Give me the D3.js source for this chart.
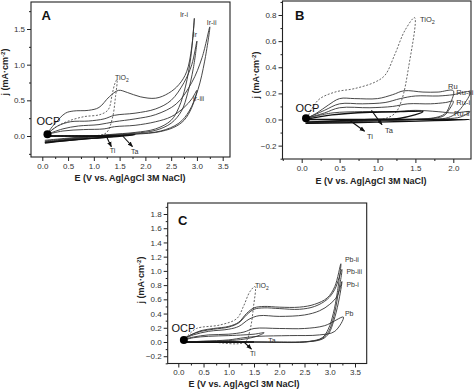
<!DOCTYPE html>
<html>
<head>
<meta charset="utf-8">
<script src="https://cdn.jsdelivr.net/npm/d3@7"></script>
<style>
  body { margin: 0; background: #fff; }
  svg { display: block; font-family: "Liberation Sans", Arial, sans-serif; }
</style>
</head>
<body>
<div id="chart"></div>
<script>
// ---- Panel A data: [E (V), j (mA/cm2)] loops, forward then reverse ----
var tio2A = [[0.08,0.02],[0.25,0.12],[0.47,0.2],[0.8,0.27],[1.12,0.3],[1.28,0.37],[1.36,0.6],[1.41,0.74],[1.45,0.79],
             [1.42,0.55],[1.36,0.25],[1.25,0.05],[1.1,0.01],[0.6,0.0],[0.08,0.0]];
var irI = [[0.08,0.02],[0.25,0.18],[0.45,0.32],[0.6,0.35],[0.9,0.36],[1.1,0.4],[1.3,0.55],[1.48,0.64],[1.65,0.61],[1.9,0.55],
           [2.2,0.53],[2.45,0.6],[2.65,0.72],[2.8,0.9],[2.9,1.25],[2.95,1.65],
           [2.88,1.1],[2.78,0.7],[2.65,0.4],[2.5,0.22],[2.2,0.1],[1.8,0.05],[1.3,0.02],[0.8,-0.02],[0.3,-0.06],[0.05,-0.08]];
var ir = [[0.08,0.02],[0.3,0.14],[0.55,0.2],[0.9,0.21],[1.2,0.24],[1.4,0.29],[1.8,0.32],[2.2,0.38],[2.5,0.5],[2.75,0.75],
          [2.9,1.0],[3.0,1.33],
          [2.93,0.95],[2.82,0.6],[2.7,0.35],[2.5,0.18],[2.2,0.08],[1.8,0.04],[1.2,0.01],[0.6,-0.03],[0.05,-0.07]];
var irII = [[0.08,0.02],[0.4,0.1],[0.7,0.14],[1.1,0.16],[1.4,0.2],[1.8,0.24],[2.2,0.3],[2.6,0.45],[2.9,0.75],[3.1,1.1],[3.25,1.53],
            [3.15,1.05],[3.02,0.65],[2.85,0.35],[2.65,0.18],[2.3,0.07],[1.8,0.03],[1.2,0.0],[0.6,-0.04],[0.05,-0.09]];
var irIII = [[0.08,0.02],[0.4,0.07],[0.8,0.09],[1.2,0.1],[1.4,0.13],[1.8,0.15],[2.2,0.2],[2.5,0.27],[2.75,0.4],[2.9,0.52],[3.0,0.64],
             [2.9,0.4],[2.75,0.22],[2.55,0.12],[2.2,0.05],[1.6,0.02],[1.0,0.0],[0.5,-0.03],[0.05,-0.06]];
var tiA = [[0.05,0.0],[0.6,0.0],[1.2,0.0],[1.45,0.0],[1.0,-0.03],[0.5,-0.06],[0.05,-0.09]];
var taA = [[0.05,0.0],[1.0,0.0],[1.5,0.005],[1.8,0.02],[1.5,-0.005],[0.8,-0.04],[0.05,-0.1]];

// ---- Panel B data ----
var tio2B = [[0.07,0.01],[0.22,0.15],[0.44,0.21],[0.7,0.237],[0.97,0.287],[1.1,0.34],[1.23,0.5],[1.36,0.68],[1.49,0.78],
             [1.41,0.4],[1.32,0.15],[1.23,0.047],[1.05,0.0],[0.5,0.0],[0.07,0.0]];
var ru = [[0.07,0.01],[0.2,0.05],[0.35,0.11],[0.5,0.16],[0.7,0.16],[1.0,0.16],[1.2,0.19],[1.35,0.22],[1.6,0.21],[1.8,0.21],[2.0,0.22],
          [1.96,0.12],[1.9,0.05],[1.8,0.02],[1.5,0.0],[1.0,-0.01],[0.5,-0.02],[0.07,-0.03]];
var ruIII = [[0.07,0.01],[0.3,0.07],[0.5,0.12],[0.8,0.12],[1.1,0.13],[1.3,0.16],[1.5,0.18],[1.8,0.18],[2.0,0.19],[2.22,0.21],
             [2.12,0.1],[2.02,0.04],[1.9,0.01],[1.5,0.0],[1.0,-0.01],[0.07,-0.025]];
var ruI = [[0.07,0.01],[0.3,0.05],[0.5,0.09],[0.9,0.09],[1.2,0.1],[1.4,0.12],[1.7,0.12],[1.9,0.13],[2.0,0.14],
           [1.95,0.08],[1.88,0.03],[1.75,0.01],[1.3,0.0],[0.07,-0.02]];
var ruII = [[0.07,0.01],[0.4,0.05],[0.8,0.06],[1.2,0.06],[1.5,0.07],[1.8,0.06],[2.0,0.05],[2.22,0.06],
            [2.1,0.02],[1.9,0.005],[1.0,-0.005],[0.07,-0.02]];
var tiB = [[0.05,0.0],[1.0,0.0],[2.22,0.0],[1.0,-0.02],[0.05,-0.03]];
var taB = [[0.05,0.0],[0.4,0.035],[0.9,0.055],[1.3,0.06],[1.6,0.06],[1.3,0.01],[0.9,0.0],[0.05,-0.02]];

// ---- Panel C data ----
var tio2C = [[0.07,0.03],[0.2,0.1],[0.36,0.19],[0.83,0.24],[1.16,0.33],[1.29,0.5],[1.42,0.71],[1.52,0.78],
             [1.49,0.5],[1.42,0.17],[1.32,0.0],[0.6,0.0],[0.07,0.0]];
var pbII = [[0.07,0.03],[0.25,0.1],[0.45,0.16],[0.7,0.19],[1.0,0.22],[1.2,0.28],[1.35,0.4],[1.5,0.48],[1.7,0.5],[2.0,0.49],
            [2.4,0.49],[2.7,0.53],[2.95,0.62],[3.1,0.78],[3.22,1.1],
            [3.15,0.7],[3.07,0.4],[2.97,0.18],[2.85,0.06],[2.6,0.01],[2.0,0.0],[1.0,0.0],[0.07,0.0]];
var pbIII = [[0.07,0.03],[0.25,0.1],[0.45,0.15],[0.7,0.18],[1.0,0.21],[1.2,0.27],[1.35,0.38],[1.5,0.46],[1.7,0.48],[2.0,0.47],
             [2.4,0.46],[2.7,0.5],[2.95,0.6],[3.1,0.74],[3.24,1.02],
             [3.16,0.65],[3.08,0.36],[2.98,0.15],[2.85,0.05],[2.5,0.0],[1.5,0.0],[0.07,0.0]];
var pbI = [[0.07,0.03],[0.3,0.1],[0.6,0.15],[1.0,0.18],[1.2,0.22],[1.4,0.32],[1.6,0.37],[2.0,0.36],[2.5,0.38],[2.8,0.44],
           [3.0,0.53],[3.15,0.65],[3.24,0.85],
           [3.17,0.55],[3.08,0.3],[2.98,0.12],[2.85,0.04],[2.5,0.0],[1.5,0.0],[0.07,0.0]];
var pb = [[0.07,0.03],[0.3,0.07],[0.6,0.1],[1.0,0.11],[1.3,0.14],[1.5,0.19],[2.0,0.19],[2.5,0.19],[2.9,0.23],[3.27,0.35],
          [3.1,0.15],[2.8,0.1],[2.2,0.09],[1.6,0.08],[1.3,0.06],[1.0,0.03],[0.5,0.01],[0.07,0.0]];
var taC = [[0.07,0.02],[0.3,0.06],[0.6,0.08],[1.0,0.09],[1.3,0.1],[1.5,0.11],[1.7,0.13],
           [1.55,0.08],[1.3,0.04],[1.0,0.02],[0.5,0.01],[0.07,0.0]];
var tiC = [[0.07,0.0],[0.8,0.0],[1.5,0.0],[0.8,-0.005],[0.07,-0.005]];

// OCP points
var ocpA = [0.1, 0.024], ocpB = [0.057, 0.01], ocpC = [0.11, 0.028];

// ---- Tick values ----
var xTicksA = [0, 0.5, 1.0, 1.5, 2.0, 2.5, 3.0, 3.5];
var yTicksA = [0, 0.5, 1.0, 1.5];
var xTicksB = [0, 0.5, 1.0, 1.5, 2.0];
var yTicksB = [-0.2, 0, 0.2, 0.4, 0.6, 0.8];
var xTicksC = [0, 0.5, 1.0, 1.5, 2.0, 2.5, 3.0, 3.5];
var yTicksC = [-0.2, 0, 0.2, 0.4, 0.6, 0.8, 1.0, 1.2, 1.4, 1.6, 1.8];

// ---- Curve labels [text, E, j] ----
var labelsA = [["Ir-i", 2.67, 1.67], ["Ir", 2.92, 1.39], ["Ir-ii", 3.19, 1.56], ["Ir-iii", 2.92, 0.495],
               ["TiO2", 1.41, 0.78], ["Ti", 1.31, -0.24], ["Ta", 1.72, -0.25]];
var labelsB = [["Ru", 1.93, 0.237], ["Ru-iii", 2.04, 0.19], ["Ru-i", 2.04, 0.11], ["Ru-ii", 2.01, 0.03],
               ["TiO2", 1.56, 0.75], ["Ti", 0.86, -0.15], ["Ta", 1.1, -0.1]];
var labelsC = [["Pb-ii", 3.3, 1.13], ["Pb-iii", 3.33, 0.95], ["Pb-i", 3.33, 0.77], ["Pb", 3.3, 0.36],
               ["TiO2", 1.52, 0.76], ["Ta", 1.78, -0.01], ["Ti", 1.42, -0.2]];
// arrows [E0, j0, E1, j1]
var arrowsA = [[1.24, 0.0, 1.34, -0.15], [1.56, 0.0, 1.75, -0.15]];
var arrowsB = [[0.64, -0.01, 0.83, -0.09], [0.92, 0.07, 1.06, -0.04]];
var arrowsC = [[1.3, 0.0, 1.45, -0.1]];

var svg = d3.select("#chart").append("svg")
    .attr("width", 474).attr("height", 390);

svg.append("defs").append("marker")
    .attr("id", "arr").attr("viewBox", "0 0 10 10")
    .attr("refX", 9).attr("refY", 5)
    .attr("markerWidth", 5).attr("markerHeight", 5)
    .attr("orient", "auto")
  .append("path").attr("d", "M0,1L10,5L0,9z").attr("fill", "#111");

// scale that hits two anchor points, then spans the frame
function anchored(v0, p0, v1, p1, lo, hi) {
    var s = d3.scaleLinear().domain([v0, v1]).range([p0, p1]);
    return d3.scaleLinear().domain([s.invert(lo), s.invert(hi)]).range([lo, hi]);
}

function minorOf(ticks, step, dom) {
    var out = [];
    var lo = Math.min(dom[0], dom[1]), hi = Math.max(dom[0], dom[1]);
    for (var v = ticks[0] - step * 4; v <= hi + 1e-9; v += step) {
        if (v >= lo - 1e-9 && !ticks.some(function (t) { return Math.abs(t - v) < 1e-6; })) out.push(+v.toFixed(3));
    }
    return out;
}

function addLabel(g, t, x, y, size) {
    var txt = g.append("text").attr("x", x).attr("y", y)
        .style("font-size", size + "px").attr("fill", "#333");
    if (t === "TiO2") {
        txt.append("tspan").text("TiO");
        txt.append("tspan").text("2").attr("dy", 2).style("font-size", (size - 2) + "px");
    } else {
        txt.text(t);
    }
}

function drawPanel(p) {
    var x = anchored(0, p.xa[0], p.xa[1], p.xa[2], p.frame[0], p.frame[1]);
    var y = anchored(0, p.ya[0], p.ya[1], p.ya[2], p.frame[3], p.frame[2]);
    var g = svg.append("g");

    // axes (outward ticks)
    g.append("g").attr("transform", "translate(0," + p.frame[3] + ")")
        .call(d3.axisBottom(x).tickValues(minorOf(p.xTicks, 0.25, x.domain())).tickSize(2).tickFormat(""));
    g.append("g").attr("transform", "translate(0," + p.frame[3] + ")")
        .call(d3.axisBottom(x).tickValues(p.xTicks).tickSize(4).tickPadding(2).tickFormat(d3.format(".1f")));
    g.append("g").attr("transform", "translate(" + p.frame[0] + ",0)")
        .call(d3.axisLeft(y).tickValues(minorOf(p.yTicks, p.yMinor, y.domain())).tickSize(2).tickFormat(""));
    g.append("g").attr("transform", "translate(" + p.frame[0] + ",0)")
        .call(d3.axisLeft(y).tickValues(p.yTicks).tickSize(4).tickPadding(2).tickFormat(d3.format(".1f")));
    g.selectAll(".domain").remove();
    g.selectAll(".tick line").attr("stroke", "#222");
    g.selectAll(".tick text").style("font-size", "8px").attr("fill", "#333")
        .style("font-family", "'Liberation Sans', Arial, sans-serif");

    g.append("rect")
        .attr("x", p.frame[0]).attr("y", p.frame[2])
        .attr("width", p.frame[1] - p.frame[0]).attr("height", p.frame[3] - p.frame[2])
        .attr("fill", "none").attr("stroke", "#222").attr("stroke-width", 1.1);

    var clipId = "clip" + p.name;
    svg.select("defs").append("clipPath").attr("id", clipId).append("rect")
        .attr("x", p.frame[0]).attr("y", p.frame[2])
        .attr("width", p.frame[1] - p.frame[0]).attr("height", p.frame[3] - p.frame[2]);
    var plot = g.append("g").attr("clip-path", "url(#" + clipId + ")");

    var line = d3.line().x(function (d) { return x(d[0]); }).y(function (d) { return y(d[1]); })
        .curve(d3.curveCatmullRom.alpha(0.5));

    p.series.forEach(function (s) {
        var path = plot.append("path").attr("d", line(s.data)).attr("fill", "none");
        if (s.kind === "dash") path.attr("stroke", "#555").attr("stroke-width", 0.9).attr("stroke-dasharray", "2,1.6");
        else if (s.kind === "thick") path.attr("stroke", "#111").attr("stroke-width", 1.4);
        else path.attr("stroke", "#333").attr("stroke-width", 0.9);
    });

    p.arrows.forEach(function (a) {
        g.append("line").attr("x1", x(a[0])).attr("y1", y(a[1])).attr("x2", x(a[2])).attr("y2", y(a[3]))
            .attr("stroke", "#111").attr("stroke-width", 1.1).attr("marker-end", "url(#arr)");
    });

    p.labels.forEach(function (l) { addLabel(g, l[0], x(l[1]), y(l[2]), p.labelSize); });

    // OCP marker
    g.append("circle").attr("cx", x(p.ocp[0])).attr("cy", y(p.ocp[1])).attr("r", 4).attr("fill", "#000");
    g.append("text").attr("x", p.ocpText[0]).attr("y", p.ocpText[1])
        .style("font-size", "11px").attr("fill", "#111").text("OCP");

    // panel letter
    g.append("text").attr("x", p.letter[0]).attr("y", p.letter[1])
        .style("font-size", "13px").style("font-weight", "bold").attr("fill", "#111").text(p.name);

    // axis titles
    g.append("text").attr("x", p.xTitle[0]).attr("y", p.xTitle[1]).attr("text-anchor", "middle")
        .style("font-size", "9px").style("font-weight", "bold").attr("fill", "#222")
        .text("E (V vs. Ag|AgCl 3M NaCl)");
    var yt = g.append("text")
        .attr("transform", "translate(" + p.yTitle[0] + "," + p.yTitle[1] + ") rotate(-90)")
        .attr("text-anchor", "middle")
        .style("font-size", "9px").style("font-weight", "bold").attr("fill", "#222");
    yt.append("tspan").text("j (mA\u00b7cm");
    yt.append("tspan").text("-2").attr("dy", -3).style("font-size", "6px");
    yt.append("tspan").text(")").attr("dy", 3);
}

drawPanel({
    name: "A", frame: [31, 230, 2, 157],
    xa: [42.3, 3.5, 222.7], ya: [136, 1.5, 29],
    xTicks: xTicksA, yTicks: yTicksA, yMinor: 0.25,
    series: [
        { data: tio2A, kind: "dash" }, { data: irI }, { data: ir }, { data: irII }, { data: irIII },
        { data: tiA, kind: "thick" }, { data: taA, kind: "thick" }
    ],
    labels: labelsA, arrows: arrowsA, labelSize: 7,
    ocp: ocpA, ocpText: [36.5, 125], letter: [41.5, 20],
    xTitle: [130, 181], yTitle: [8, 72]
});

drawPanel({
    name: "B", frame: [282.5, 471, 1, 159],
    xa: [301.7, 2.0, 453.3], ya: [119.5, 0.8, 15],
    xTicks: xTicksB, yTicks: yTicksB, yMinor: 0.1,
    series: [
        { data: tio2B, kind: "dash" }, { data: ru }, { data: ruIII }, { data: ruI }, { data: ruII },
        { data: tiB, kind: "thick" }, { data: taB, kind: "thick" }
    ],
    labels: labelsB, arrows: arrowsB, labelSize: 7.5,
    ocp: ocpB, ocpText: [295.5, 111.5], letter: [295, 20],
    xTitle: [371, 184], yTitle: [259, 75]
});

drawPanel({
    name: "C", frame: [167.7, 366.7, 203, 363.5],
    xa: [178.3, 3.5, 355], ya: [342, 1.8, 214],
    xTicks: xTicksC, yTicks: yTicksC, yMinor: 0.1,
    series: [
        { data: tio2C, kind: "dash" }, { data: pbII }, { data: pbIII }, { data: pbI }, { data: pb },
        { data: taC }, { data: tiC, kind: "thick" }
    ],
    labels: labelsC, arrows: arrowsC, labelSize: 7,
    ocp: ocpC, ocpText: [171.5, 332], letter: [178, 225],
    xTitle: [244, 387], yTitle: [144, 280]
});
</script>
</body>
</html>
